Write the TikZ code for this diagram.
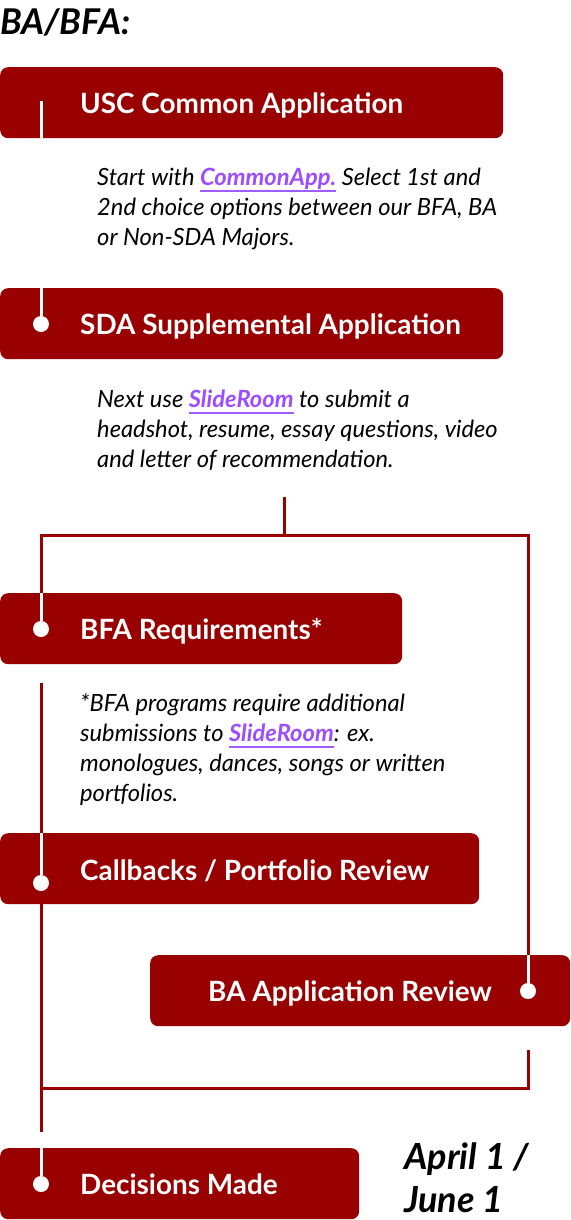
\documentclass[tikz,border=0pt]{standalone}
\usepackage{fontspec}
\setmainfont{Lato}
\usetikzlibrary{calc}
\definecolor{usred}{HTML}{990000}
\definecolor{linkp}{HTML}{9B4DFF}
\definecolor{linku}{HTML}{9F5CFF}
\newcommand{\lnk}[1]{\setbox0\hbox{{\bfseries\itshape\color{linkp}#1}}\rlap{{\color{linku}\rule[-7pt]{\wd0}{1.6pt}}}\box0\relax}
\tikzset{
  box/.style={fill=usred, rounded corners=8pt, minimum height=71pt, anchor=north west, inner sep=0pt},
  boxtext/.style={anchor=west, text=white, inner sep=0pt, text height=19.5pt, text depth=0pt, font=\bfseries\fontsize{27.9}{32}\selectfont},
  desc/.style={anchor=base west, inner sep=0pt, font=\itshape\fontsize{23.7}{30}\selectfont},
  dot/.style={circle, fill=white, minimum size=16pt, inner sep=0pt},
  wline/.style={draw=white, line width=3pt},
  rline/.style={draw=usred, line width=3pt},
  big/.style={anchor=base west, inner sep=0pt, font=\bfseries\itshape\fontsize{36}{43}\selectfont}
}
\begin{document}
\begin{tikzpicture}[x=1pt,y=-1pt]
\useasboundingbox (0,0) rectangle (570,1220);
% title
\node[anchor=base west, inner sep=0pt, font=\bfseries\itshape\fontsize{35.5}{40}\selectfont] (title) at (0,35) {BA/BFA:};
% boxes
\node[box, minimum width=503pt] (b1) at (0,67) {};
\node[boxtext] (b1t) at ($(b1.west)+(80,1.5)$) {USC Common Application};
\node[box, minimum width=503pt] (b2) at (0,288) {};
\node[boxtext] (b2t) at ($(b2.west)+(80,1.5)$) {SDA Supplemental Application};
\node[box, minimum width=402pt] (b3) at (0,593) {};
\node[boxtext] (b3t) at ($(b3.west)+(80,1.5)$) {BFA Requirements*};
\node[box, minimum width=479pt] (b4) at (0,833) {};
\node[boxtext] (b4t) at ($(b4.west)+(80,2)$) {Callbacks / Portfolio Review};
\node[box, minimum width=420pt] (b5) at (150,955) {};
\node[boxtext] (b5t) at ($(b5.west)+(58,1.5)$) {BA Application Review};
\node[box, minimum width=359pt] (b6) at (0,1148) {};
\node[boxtext] (b6t) at ($(b6.west)+(80,1.5)$) {Decisions Made};
% descriptions
\node[desc] (d1a) at (97,185) {Start with \lnk{CommonApp.} Select 1st and};
\node[desc] (d1b) at (97,215) {2nd choice options between our BFA, BA};
\node[desc] (d1c) at (97,245) {or Non-SDA Majors.};
\node[desc] (d2a) at (97,407) {Next use \lnk{SlideRoom} to submit a};
\node[desc] (d2b) at (97,437) {headshot, resume, essay questions, video};
\node[desc] (d2c) at (97,467) {and letter of recommendation.};
\node[desc] (d3a) at (80,711) {*BFA programs require additional};
\node[desc] (d3b) at (80,741) {submissions to \lnk{SlideRoom}: ex.};
\node[desc] (d3c) at (80,771) {monologues, dances, songs or written};
\node[desc] (d3d) at (80,801) {portfolios.};
\node[big] (ap1) at (404,1169) {April 1 /};
\node[big] (ap2) at (404,1212) {June 1};
% dots
\node[dot] (p2) at (41,324) {};
\node[dot] (p3) at (41,629) {};
\node[dot] (p4) at (41,883) {};
\node[dot] (p5) at (528,991) {};
\node[dot] (p6) at (41,1184) {};
% coordinates
\coordinate (c1) at (41,101);
\coordinate (c2) at (284,497);
\coordinate (jL) at (41,535);
\coordinate (jM) at (284,535);
\coordinate (jR) at (528,535);
\coordinate (c3) at (41,683);
\coordinate (c5) at (528,1050);
\coordinate (kL) at (41,1088);
\coordinate (kR) at (528,1088);
\coordinate (c6) at (41,1132);
% white lines inside boxes
\draw[wline] (c1) -- (c1 |- b1.south);
\draw[wline] (p2 |- b2.north) -- (p2);
\draw[wline] (p3 |- b3.north) -- (p3);
\draw[wline] (p4 |- b4.north) -- (p4);
\draw[wline] (p5 |- b5.north) -- (p5);
\draw[wline] (p6 |- b6.north) -- (p6);
% red connectors
\draw[rline] (c2) -- (jM);
\draw[rline] (p3 |- b3.north) -- (jL) -- (jR) -- (p5 |- b5.north);
\draw[rline] (c3) -- (p4 |- b4.north);
\draw[rline] (p4 |- b4.south) -- (c6);
\draw[rline] (c5) -- (kR) -- (kL);
\end{tikzpicture}
\end{document}
